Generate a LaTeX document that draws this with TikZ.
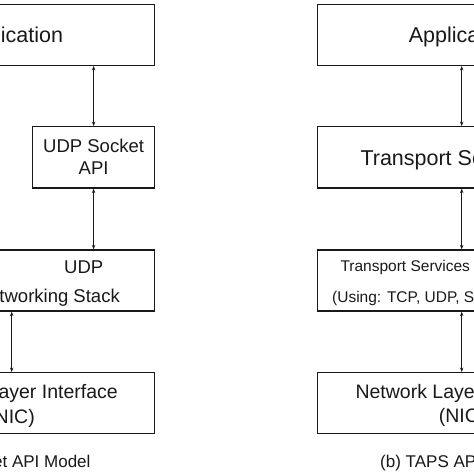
\documentclass[tikz,border=0pt]{standalone}
\usepackage{fontspec}
\setmainfont{Liberation Sans}
\usetikzlibrary{arrows.meta,fit}
\definecolor{ink}{RGB}{25,25,25}
\tikzset{
  box/.style={draw=ink, line width=1.3pt, inner sep=0pt, rectangle},
  arr/.style={draw=ink, line width=1pt, {Stealth[length=4.5pt,width=3.4pt]}-{Stealth[length=4.5pt,width=3.4pt]}},
  txt/.style={inner sep=0pt, text=ink},
  big/.style={txt, font=\fontsize{21.5}{26}\selectfont},
  mid/.style={txt, font=\fontsize{18.5}{22}\selectfont},
  nic/.style={txt, font=\fontsize{19.5}{23}\selectfont},
  sml/.style={txt, font=\fontsize{15.5}{19}\selectfont},
  captxt/.style={txt, font=\fontsize{17}{20}\selectfont}
}
\begin{document}
\begin{tikzpicture}[x=1pt,y=-1pt]
\useasboundingbox (0,0) rectangle (474,474);
\clip (0,0) rectangle (474,474);
\fill[white] (0,0) rectangle (474,474);
% left column boxes
\node[box, fit={(-140,4.3) (154.5,65.3)}] (la) {};
\node[box, fit={(32.3,126.7) (154.5,188)}] (lb) {};
\node[box, fit={(-140,250) (154.5,311)}] (lc) {};
\node[box, fit={(-140,372.7) (154.5,433.5)}] (ld) {};
% right column boxes
\node[box, fit={(317.5,4.3) (620,65.3)}] (ra) {};
\node[box, fit={(317.5,126.7) (620,188)}] (rb) {};
\node[box, fit={(317.5,250) (620,311)}] (rc) {};
\node[box, fit={(317.5,372.7) (620,433.5)}] (rd) {};
% arrow columns
\coordinate (xl1) at (93.6,0);
\coordinate (xl2) at (11.7,0);
\coordinate (xr) at (461.7,0);
\draw[arr] (la.south -| xl1) -- (lb.north -| xl1);
\draw[arr] (lb.south -| xl1) -- (lc.north -| xl1);
\draw[arr] (lc.south -| xl2) -- (ld.north -| xl2);
\draw[arr] (ra.south -| xr) -- (rb.north -| xr);
\draw[arr] (rb.south -| xr) -- (rc.north -| xr);
\draw[arr] (rc.south -| xr) -- (rd.north -| xr);
% left texts
\node[big, anchor=base east] (t1) at (63.3,42.3) {Application};
\node[mid, anchor=base] (t2) at (93.6,152.3) {UDP Socket};
\node[mid, anchor=base] (t3) at (93.6,174) {API};
\node[mid, anchor=base west] (t4) at (64,273) {UDP};
\node[mid, anchor=base east] (t5) at (120,302) {Networking Stack};
\node[nic, anchor=base east] (t6) at (118,398.7) {Network Layer Interface};
\node[nic, anchor=base east] (t7) at (35,423.5) {(NIC)};
\node[captxt, anchor=base east] (t8) at (90.7,467) {(a) UDP Socket API Model};
% right texts
\node[big, anchor=base west] (s1) at (408.7,42.3) {Application};
\node[big, anchor=base west] (s2) at (360.3,165.7) {Transport Services API};
\node[sml, anchor=base west] (s3) at (340.3,271.3) {Transport Services};
\node[sml, anchor=base west] (s4) at (332,302) {(Using: TCP, UDP, SCTP)};
\node[nic, anchor=base west] (s5) at (355.3,398.7) {Network Layer Interface};
\node[nic, anchor=base west] (s6) at (438.7,422) {(NIC)};
\node[captxt, anchor=base west] (s7) at (380,467) {(b) TAPS API Model};
\end{tikzpicture}
\end{document}
